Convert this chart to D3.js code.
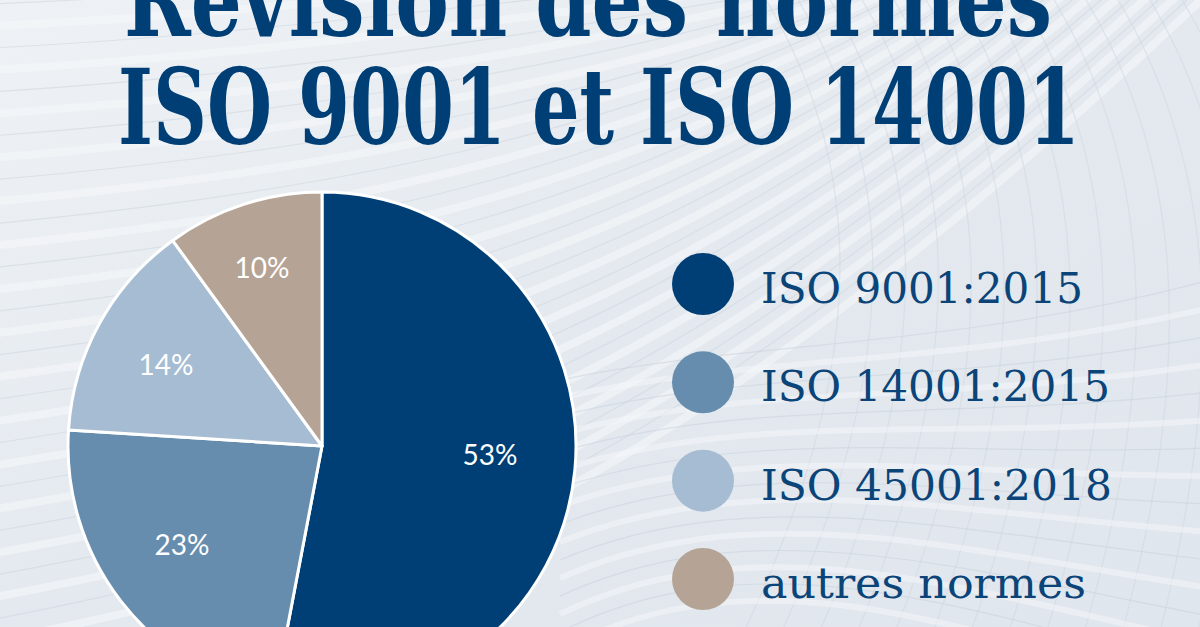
<!DOCTYPE html>
<html><head><meta charset="utf-8">
<script src="https://cdn.jsdelivr.net/npm/d3@7"></script>
<style>html,body{margin:0;padding:0;overflow:hidden;background:#e6ebf0}</style>
</head><body>
<script>
const categories = ["ISO 9001:2015", "ISO 14001:2015", "ISO 45001:2018", "autres normes"];
const values = [53, 23, 14, 10];
const labels = ["53%", "23%", "14%", "10%"];
const colors = ["#003f76", "#668dae", "#a6bcd3", "#b5a495"];
const titleLines = ["Révision des normes", "ISO 9001 et ISO 14001"];

const W = 1200, H = 627;
const svg = d3.select("body").append("svg").attr("width", W).attr("height", H);
const defs = svg.append("defs");
const g0 = defs.append("linearGradient").attr("id","bg").attr("x1",0).attr("y1",0).attr("x2",1).attr("y2",1);
g0.append("stop").attr("offset",0).attr("stop-color","#eef2f6");
g0.append("stop").attr("offset",0.5).attr("stop-color","#e4e9ef");
g0.append("stop").attr("offset",1).attr("stop-color","#e0e6ed");
svg.append("rect").attr("width",W).attr("height",H).attr("fill","url(#bg)");

// decorative wavy background
const bgG = svg.append("g");
for (let k = 0; k < 34; k++) {
  const y0 = -40 + k * 22;
  const xr = 760 + k * 14;
  const p = d3.path();
  p.moveTo(-10, y0);
  p.bezierCurveTo(350, y0 - 10 - k*2, 650, y0 - 60 - k*3, xr, -20);
  bgG.append("path").attr("d", p.toString()).attr("fill","none")
    .attr("stroke", k % 2 ? "#f6f8fa" : "#cdd5df").attr("stroke-width", k % 2 ? 8 : 1.2).attr("opacity",0.55);
}
for (let k = 0; k < 14; k++) {
  const x0 = 820 + k * 32;
  const p = d3.path();
  p.moveTo(x0 - 60, -10);
  p.bezierCurveTo(x0 + 40, 150, x0 + 60, 350, x0 - 80 + k*6, 640);
  bgG.append("path").attr("d", p.toString()).attr("fill","none")
    .attr("stroke", "#cdd5df").attr("stroke-width", 1.2).attr("opacity",0.5);
}
for (let k = 0; k < 16; k++) {
  const y0 = 380 + k * 18;
  const p = d3.path();
  p.moveTo(560, y0);
  p.bezierCurveTo(750, y0 - 40 - k*4, 950, y0 - 30, 1210, y0 - 100 + k*10);
  bgG.append("path").attr("d", p.toString()).attr("fill","none")
    .attr("stroke", k % 2 ? "#f4f6f9" : "#c9d2dc").attr("stroke-width", k % 2 ? 6 : 1.2).attr("opacity",0.55);
}

// title
const title = svg.append("g").attr("fill","#003f76")
  .style("font-family","'DejaVu Serif Condensed','DejaVu Serif',serif").style("font-weight","bold");
title.append("text").attr("x",124).attr("y",36).attr("font-size",104)
  .attr("textLength",928).attr("lengthAdjust","spacingAndGlyphs").text(titleLines[0]);
title.append("text").attr("x",118).attr("y",144).attr("font-size",104)
  .attr("textLength",962).attr("lengthAdjust","spacingAndGlyphs").text(titleLines[1]);

// pie
const cx = 322, cy = 446, R = 254;
const pie = d3.pie().sort(null).value(d => d);
const arcs = pie(values);
const arc = d3.arc().innerRadius(0).outerRadius(R);
const pg = svg.append("g").attr("transform",`translate(${cx},${cy})`);
pg.selectAll("path").data(arcs).join("path")
  .attr("d", arc).attr("fill",(d,i)=>colors[i])
  .attr("stroke","#ffffff").attr("stroke-width",3).attr("stroke-linejoin","round");
// label offsets relative to pie centre, as fractions of the radius
const labelFrac = [[0.661, 0.035], [-0.551, 0.39], [-0.614, -0.319], [-0.236, -0.701]];
pg.selectAll("text").data(arcs).join("text")
  .attr("transform",(d,i)=>`translate(${labelFrac[i][0]*R},${labelFrac[i][1]*R})`)
  .attr("text-anchor","middle").attr("dy","0.35em")
  .attr("fill","#ffffff").style("font-family","Lato, 'Open Sans', sans-serif").attr("font-size",28)
  .text((d,i)=>labels[i]);

// legend
const ly = d3.scalePoint().domain(categories).range([284, 579]);
const lg = svg.append("g");
const widths = [322, 349, 351, 325];
categories.forEach((c,i)=>{
  lg.append("circle").attr("cx",703).attr("cy",ly(c)).attr("r",31).attr("fill",colors[i]);
  lg.append("text").attr("x",761).attr("y",ly(c)+19).attr("fill","#0a4478")
    .style("font-family","'DejaVu Serif',serif").attr("font-size",43)
    .attr("textLength",widths[i]).attr("lengthAdjust","spacingAndGlyphs").text(c);
});
</script>
</body></html>
